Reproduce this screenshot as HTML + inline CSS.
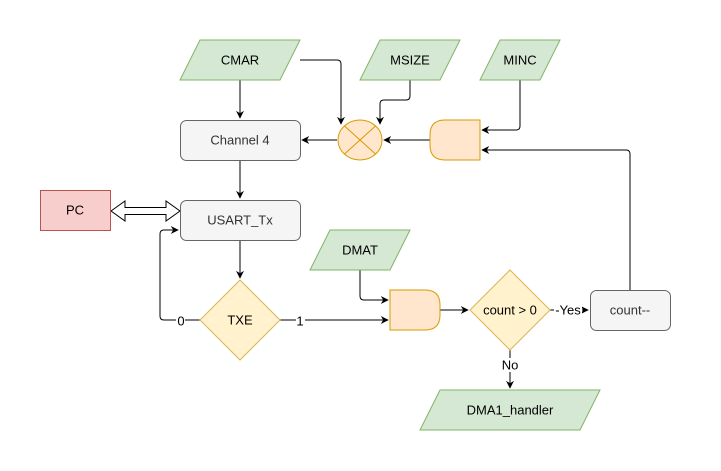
<!DOCTYPE html>
<html><head><meta charset="utf-8"><style>
html,body{margin:0;padding:0;background:#fff;}
svg{display:block;}
text{font-family:"Liberation Sans",Helvetica,Arial,sans-serif;font-size:13px;text-anchor:middle;dominant-baseline:central;}
</style></head><body>
<svg width="721" height="471" viewBox="0 0 721 471" xmlns="http://www.w3.org/2000/svg">
<defs>
<marker id="a" viewBox="0 0 10 10" refX="9" refY="5" markerWidth="8" markerHeight="8" orient="auto" markerUnits="userSpaceOnUse">
<path d="M0,0 L10,5 L0,10 L3,5 Z" fill="#000"/></marker>
</defs>
<g fill="none" stroke="#000" stroke-width="1">
<path d="M240,80 V118" marker-end="url(#a)"/>
<path d="M300,60 H337 Q341,60 341,64 V124" marker-end="url(#a)"/>
<path d="M410,80 V96 Q410,100 406,100 H384 Q380,100 380,104 V124" marker-end="url(#a)"/>
<path d="M520,80 V126 Q520,130 516,130 H482" marker-end="url(#a)"/>
<path d="M430,140 H384" marker-end="url(#a)"/>
<path d="M337,140 H302" marker-end="url(#a)"/>
<path d="M240,160 V198" marker-end="url(#a)"/>
<path d="M240,240 V278" marker-end="url(#a)"/>
<path d="M200,320 H164 Q160,320 160,316 V234 Q160,230 164,230 H178" marker-end="url(#a)"/>
<path d="M280,320 H388" marker-end="url(#a)"/>
<path d="M360,270 V296 Q360,300 364,300 H388" marker-end="url(#a)"/>
<path d="M440,310 H468" marker-end="url(#a)"/>
<path d="M550,310 H588" marker-end="url(#a)"/>
<path d="M510,350 V388" marker-end="url(#a)"/>
<path d="M630,290 V154 Q630,150 626,150 H482" marker-end="url(#a)"/>
</g>
<path d="M111,211 L125,201 L125,207.5 L166,207.5 L166,201 L180,211 L166,221 L166,214.5 L125,214.5 L125,221 Z" fill="#fff" stroke="#000" stroke-width="1"/>
<polygon points="200,40 300,40 280,80 180,80" fill="#d5e8d4" stroke="#82b366"/>
<polygon points="380,40 460,40 440,80 360,80" fill="#d5e8d4" stroke="#82b366"/>
<polygon points="500,40 560,40 540,80 480,80" fill="#d5e8d4" stroke="#82b366"/>
<polygon points="330,230 410,230 390,270 310,270" fill="#d5e8d4" stroke="#82b366"/>
<polygon points="440,390 600,390 580,430 420,430" fill="#d5e8d4" stroke="#82b366"/>
<rect x="180.5" y="120.5" width="120" height="40" rx="6" fill="#f5f5f5" stroke="#666"/>
<rect x="180.5" y="200.5" width="120" height="40" rx="6" fill="#f5f5f5" stroke="#666"/>
<rect x="590.5" y="290.5" width="80" height="40" rx="6" fill="#f5f5f5" stroke="#666"/>
<rect x="40.5" y="190.5" width="70" height="40" fill="#f8cecc" stroke="#b85450"/>
<ellipse cx="360" cy="140" rx="22" ry="20" fill="#ffe6cc" stroke="#d79b00"/>
<path d="M344.5,126 L375.5,154 M375.5,126 L344.5,154" stroke="#d79b00"/>
<path d="M480,120 V160 H445 Q430,160 430,145 V135 Q430,120 445,120 Z" fill="#ffe6cc" stroke="#d79b00"/>
<path d="M390,290 H425 Q440,290 440,305 V315 Q440,330 425,330 H390 Z" fill="#ffe6cc" stroke="#d79b00"/>
<polygon points="240,280 280,320 240,360 200,320" fill="#fff2cc" stroke="#d6b656"/>
<polygon points="510,270 550,310 510,350 470,310" fill="#fff2cc" stroke="#d6b656"/>
<text x="240" y="60">CMAR</text>
<text x="410" y="60">MSIZE</text>
<text x="520" y="60">MINC</text>
<text x="360" y="250">DMAT</text>
<text x="510" y="410">DMA1_handler</text>
<text x="240" y="140" fill="#333">Channel 4</text>
<text x="240" y="220" fill="#333">USART_Tx</text>
<text x="630" y="310" fill="#333">count--</text>
<text x="75" y="210">PC</text>
<text x="240" y="320">TXE</text>
<text x="510" y="310">count &gt; 0</text>
<rect x="176" y="313" width="9" height="14" fill="#fff"/><text x="181" y="321">0</text>
<rect x="296" y="313" width="9" height="14" fill="#fff"/><text x="300" y="321">1</text>
<rect x="554" y="303" width="28" height="14" fill="#fff"/><text x="568" y="310">-Yes</text>
<rect x="500" y="358" width="20" height="14" fill="#fff"/><text x="510" y="365">No</text>
</svg>
</body></html>
